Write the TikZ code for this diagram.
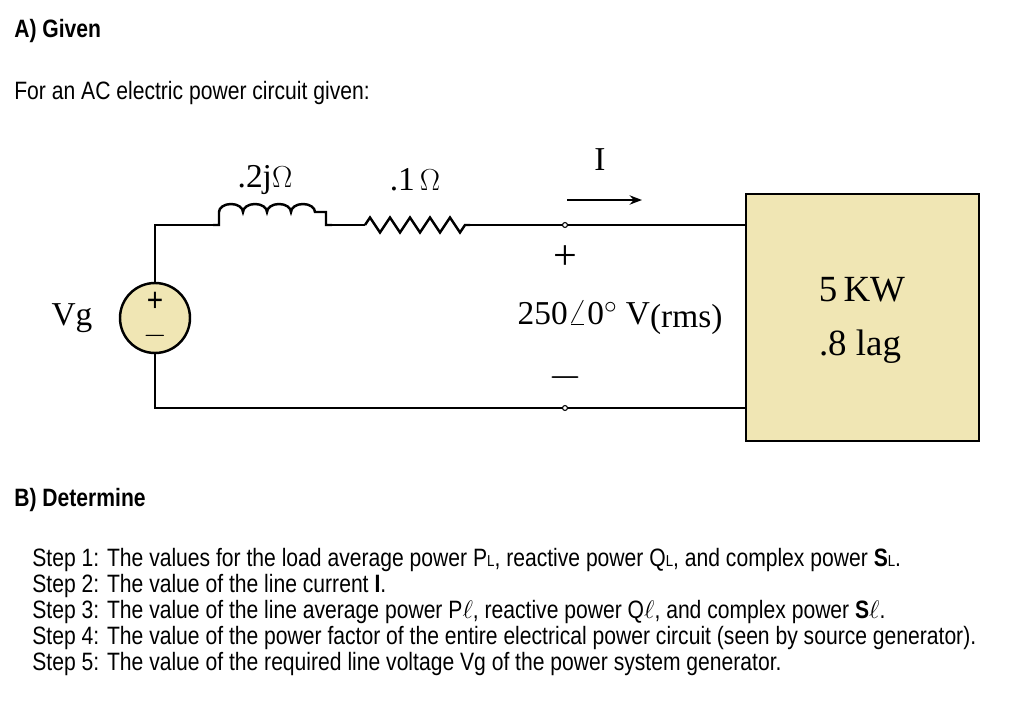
\documentclass[tikz,border=0pt]{standalone}
\usepackage{fontspec}
\setmainfont{Liberation Sans}[FakeStretch=0.84]
\newfontfamily\ckt{Liberation Serif}
\usetikzlibrary{decorations.pathmorphing,arrows.meta}
\begin{document}
\begin{tikzpicture}[x=0.02cm,y=-0.02cm,
  txt/.style={anchor=base west,inner sep=0,font=\fontsize{14.3}{16}\selectfont},
  hd/.style={anchor=base west,inner sep=0,font=\fontsize{14.3}{16}\selectfont\bfseries},
  cl/.style={inner sep=0,font=\ckt\fontsize{19}{21}\selectfont},
  w/.style={line width=1.4pt}]
\useasboundingbox (0,0) rectangle (1024,713);
\node[hd] (h1) at (14,38) {A) Given};
\node[txt] (t1) at (14,100) {For an AC electric power circuit given:};
\node[hd] (h2) at (14,506) {B) Determine};
\node[txt] (s1) at (32,566) {Step 1: The values for the load average power P{\small L}, reactive power Q{\small L}, and complex power \textbf{S}{\small L}.};
\node[txt] (s2) at (32,592) {Step 2: The value of the line current \textbf{I}.};
\node[txt] (s3) at (32,618) {Step 3: The value of the line average power P$\ell$, reactive power Q$\ell$, and complex power \textbf{S}$\ell$.};
\node[txt] (s4) at (32,644) {Step 4: The value of the power factor of the entire electrical power circuit (seen by source generator).};
\node[txt] (s5) at (32,670) {Step 5: The value of the required line voltage Vg of the power system generator.};
% circuit
\coordinate (tl) at (155,225);
\coordinate (bl) at (155,408);
\coordinate (li) at (213,225);
\coordinate (lo) at (332,225);
\coordinate (ri) at (365,225);
\coordinate (ro) at (470,225);
\coordinate (tp) at (565,225);
\coordinate (bp) at (565,408);
\coordinate (tr) at (745,225);
\coordinate (br) at (745,408);
\node[draw,line width=1.4pt,fill={rgb,255:red,240;green,230;blue,180},circle,minimum size=70*0.02cm,inner sep=0] (src) at (155,318) {};
\node[inner sep=0,font=\fontsize{19}{19}\selectfont] (sp) at (155,302) {+};
\node[inner sep=0,font=\fontsize{19}{19}\selectfont] (sm) at (155,336) {$-$};
\draw[w] (src.north) -- (tl) -- (li);
\draw[w] (li) -- (219,225) -- (219,212) \foreach \i in {0,1,2,3} { arc[start angle=180,end angle=0,x radius=12,y radius=-8] -- ++(0,0) } -- (326,212) -- (326,225) -- (lo);
\draw[w] (lo) -- (ri);
\draw[w,decorate,decoration={zigzag,amplitude=0.15cm,segment length=0.4cm}] (ri) -- (ro);
\draw[w] (ro) -- (tp) -- (tr);
\draw[w] (src.south) -- (bl) -- (bp) -- (br);
\fill[white] (tp) circle (1.4pt) (bp) circle (1.4pt);
\draw[line width=0.6pt] (tp) circle (1.4pt) (bp) circle (1.4pt);
\node[draw,line width=1.4pt,fill={rgb,255:red,240;green,230;blue,180},minimum width=233*0.02cm,minimum height=247*0.02cm,anchor=north west] (load) at (745,193) {};
\node[cl,font=\ckt\fontsize{21}{23}\selectfont] (kw) at (862,290) {5\,KW};
\node[cl,font=\ckt\fontsize{21}{23}\selectfont] (lag) at (860,347) {.8 lag};
\node[cl] (lind) at (265,180) {.2j$\Omega$};
\node[cl] (lres) at (415,180) {.1$\,\Omega$};
\node[cl] (lI) at (600,160) {I};
\coordinate (a1) at (567,200);
\coordinate (a2) at (642,200);
\draw[line width=1.4pt,-{Stealth[length=7pt]}] (a1) -- (a2);
\node[cl,font=\ckt\fontsize{24}{24}\selectfont] (vp) at (565,258) {+};
\node[cl] (vv) at (620,318) {250$\angle$0$^\circ$ V\raisebox{-0.2ex}{(rms)}};
\node[cl,font=\ckt\fontsize{24}{24}\selectfont] (vm) at (565,378) {$-$};
\node[cl] (vg) at (72,318) {Vg};
\end{tikzpicture}
\end{document}
